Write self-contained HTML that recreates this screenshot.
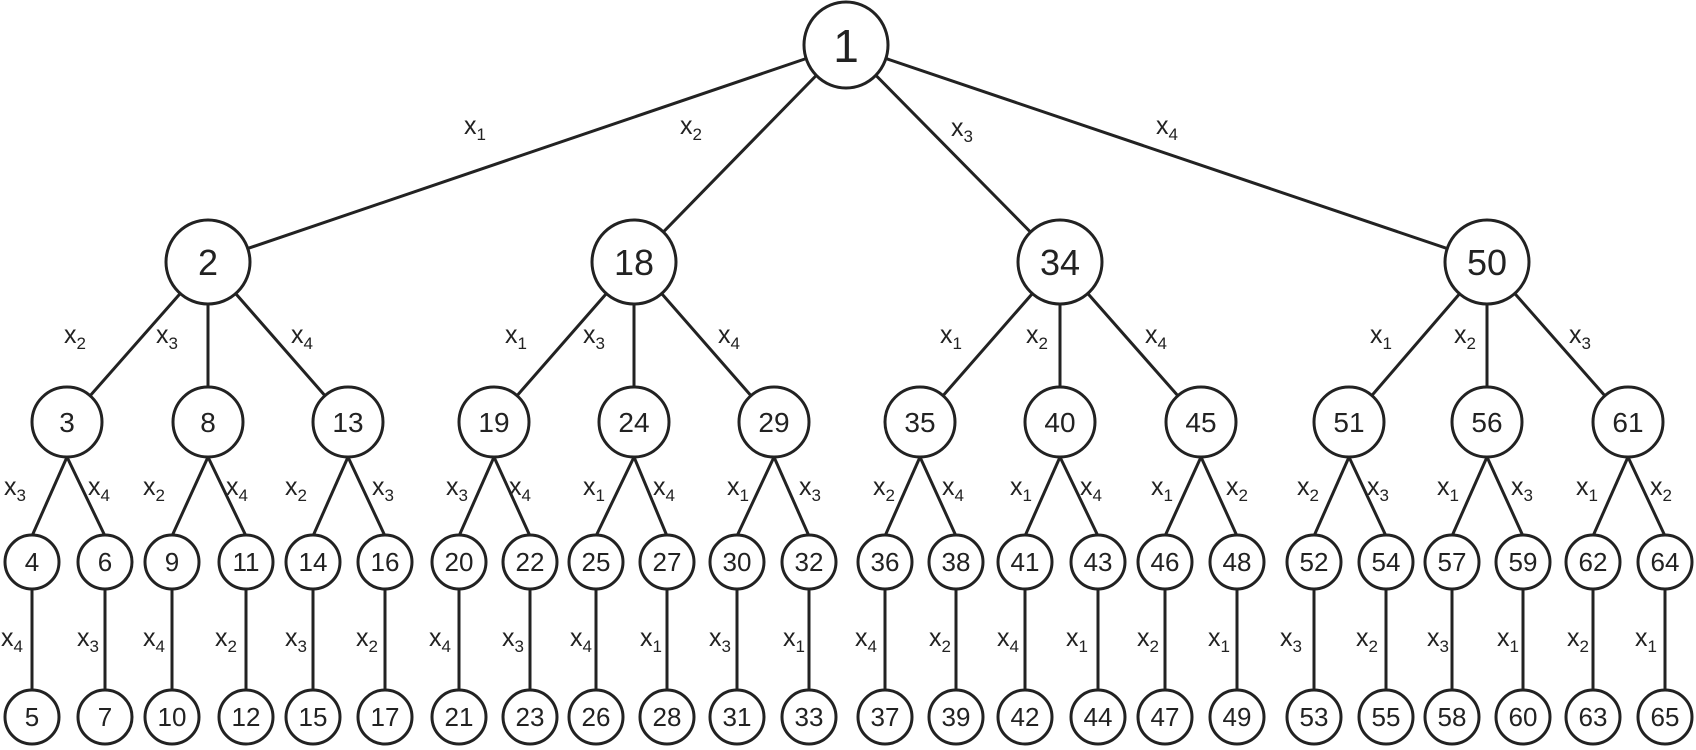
<!DOCTYPE html>
<html><head><meta charset="utf-8"><style>
html,body{margin:0;padding:0;background:#fff;}
svg{display:block;}
text{font-family:"Liberation Sans",Arial,sans-serif;fill:#222;}
.n{text-anchor:middle;}
.l{font-size:25px;}
.l tspan{font-size:17px;}
</style></head><body>
<svg width="1696" height="750" viewBox="0 0 1696 750" xmlns="http://www.w3.org/2000/svg">
<g stroke="#222" stroke-width="3" fill="none">
<!-- root edges -->
<line x1="846" y1="45" x2="208" y2="262"/>
<line x1="846" y1="45" x2="634" y2="262"/>
<line x1="846" y1="45" x2="1060" y2="262"/>
<line x1="846" y1="45" x2="1487" y2="262"/>
<!-- L2 to L3 -->
<line x1="208" y1="262" x2="67" y2="422"/><line x1="208" y1="262" x2="208" y2="422"/><line x1="208" y1="262" x2="348" y2="422"/>
<line x1="634" y1="262" x2="494" y2="422"/><line x1="634" y1="262" x2="634" y2="422"/><line x1="634" y1="262" x2="774" y2="422"/>
<line x1="1060" y1="262" x2="920" y2="422"/><line x1="1060" y1="262" x2="1060" y2="422"/><line x1="1060" y1="262" x2="1201" y2="422"/>
<line x1="1487" y1="262" x2="1349" y2="422"/><line x1="1487" y1="262" x2="1487" y2="422"/><line x1="1487" y1="262" x2="1628" y2="422"/>
<!-- L3 to L4 -->
<line x1="67" y1="457" x2="32" y2="536"/><line x1="67" y1="457" x2="105" y2="536"/>
<line x1="208" y1="457" x2="172" y2="536"/><line x1="208" y1="457" x2="246" y2="536"/>
<line x1="348" y1="457" x2="313" y2="536"/><line x1="348" y1="457" x2="385" y2="536"/>
<line x1="494" y1="457" x2="459" y2="536"/><line x1="494" y1="457" x2="530" y2="536"/>
<line x1="634" y1="457" x2="596" y2="536"/><line x1="634" y1="457" x2="667" y2="536"/>
<line x1="774" y1="457" x2="737" y2="536"/><line x1="774" y1="457" x2="809" y2="536"/>
<line x1="920" y1="457" x2="885" y2="536"/><line x1="920" y1="457" x2="956" y2="536"/>
<line x1="1060" y1="457" x2="1025" y2="536"/><line x1="1060" y1="457" x2="1098" y2="536"/>
<line x1="1201" y1="457" x2="1165" y2="536"/><line x1="1201" y1="457" x2="1237" y2="536"/>
<line x1="1349" y1="457" x2="1314" y2="536"/><line x1="1349" y1="457" x2="1386" y2="536"/>
<line x1="1487" y1="457" x2="1452" y2="536"/><line x1="1487" y1="457" x2="1523" y2="536"/>
<line x1="1628" y1="457" x2="1593" y2="536"/><line x1="1628" y1="457" x2="1665" y2="536"/>
<!-- L4 to L5 -->
<line x1="32" y1="562" x2="32" y2="717"/><line x1="105" y1="562" x2="105" y2="717"/>
<line x1="172" y1="562" x2="172" y2="717"/><line x1="246" y1="562" x2="246" y2="717"/>
<line x1="313" y1="562" x2="313" y2="717"/><line x1="385" y1="562" x2="385" y2="717"/>
<line x1="459" y1="562" x2="459" y2="717"/><line x1="530" y1="562" x2="530" y2="717"/>
<line x1="596" y1="562" x2="596" y2="717"/><line x1="667" y1="562" x2="667" y2="717"/>
<line x1="737" y1="562" x2="737" y2="717"/><line x1="809" y1="562" x2="809" y2="717"/>
<line x1="885" y1="562" x2="885" y2="717"/><line x1="956" y1="562" x2="956" y2="717"/>
<line x1="1025" y1="562" x2="1025" y2="717"/><line x1="1098" y1="562" x2="1098" y2="717"/>
<line x1="1165" y1="562" x2="1165" y2="717"/><line x1="1237" y1="562" x2="1237" y2="717"/>
<line x1="1314" y1="562" x2="1314" y2="717"/><line x1="1386" y1="562" x2="1386" y2="717"/>
<line x1="1452" y1="562" x2="1452" y2="717"/><line x1="1523" y1="562" x2="1523" y2="717"/>
<line x1="1593" y1="562" x2="1593" y2="717"/><line x1="1665" y1="562" x2="1665" y2="717"/>
</g>
<g stroke="#222" stroke-width="3" fill="#fff">
<ellipse cx="846" cy="45" rx="42" ry="43"/>
<circle cx="208" cy="262" r="42"/><circle cx="634" cy="262" r="42"/><circle cx="1060" cy="262" r="42"/><circle cx="1487" cy="262" r="42"/>
<circle cx="67" cy="422" r="35"/><circle cx="208" cy="422" r="35"/><circle cx="348" cy="422" r="35"/><circle cx="494" cy="422" r="35"/><circle cx="634" cy="422" r="35"/><circle cx="774" cy="422" r="35"/><circle cx="920" cy="422" r="35"/><circle cx="1060" cy="422" r="35"/><circle cx="1201" cy="422" r="35"/><circle cx="1349" cy="422" r="35"/><circle cx="1487" cy="422" r="35"/><circle cx="1628" cy="422" r="35"/>
<circle cx="32" cy="562" r="27"/><circle cx="105" cy="562" r="27"/><circle cx="172" cy="562" r="27"/><circle cx="246" cy="562" r="27"/><circle cx="313" cy="562" r="27"/><circle cx="385" cy="562" r="27"/><circle cx="459" cy="562" r="27"/><circle cx="530" cy="562" r="27"/><circle cx="596" cy="562" r="27"/><circle cx="667" cy="562" r="27"/><circle cx="737" cy="562" r="27"/><circle cx="809" cy="562" r="27"/><circle cx="885" cy="562" r="27"/><circle cx="956" cy="562" r="27"/><circle cx="1025" cy="562" r="27"/><circle cx="1098" cy="562" r="27"/><circle cx="1165" cy="562" r="27"/><circle cx="1237" cy="562" r="27"/><circle cx="1314" cy="562" r="27"/><circle cx="1386" cy="562" r="27"/><circle cx="1452" cy="562" r="27"/><circle cx="1523" cy="562" r="27"/><circle cx="1593" cy="562" r="27"/><circle cx="1665" cy="562" r="27"/>
<circle cx="32" cy="717" r="27"/><circle cx="105" cy="717" r="27"/><circle cx="172" cy="717" r="27"/><circle cx="246" cy="717" r="27"/><circle cx="313" cy="717" r="27"/><circle cx="385" cy="717" r="27"/><circle cx="459" cy="717" r="27"/><circle cx="530" cy="717" r="27"/><circle cx="596" cy="717" r="27"/><circle cx="667" cy="717" r="27"/><circle cx="737" cy="717" r="27"/><circle cx="809" cy="717" r="27"/><circle cx="885" cy="717" r="27"/><circle cx="956" cy="717" r="27"/><circle cx="1025" cy="717" r="27"/><circle cx="1098" cy="717" r="27"/><circle cx="1165" cy="717" r="27"/><circle cx="1237" cy="717" r="27"/><circle cx="1314" cy="717" r="27"/><circle cx="1386" cy="717" r="27"/><circle cx="1452" cy="717" r="27"/><circle cx="1523" cy="717" r="27"/><circle cx="1593" cy="717" r="27"/><circle cx="1665" cy="717" r="27"/>
</g>
<text class="n" x="846" y="62" font-size="46">1</text>
<g class="n" font-size="36">
<text x="208" y="275">2</text><text x="634" y="275">18</text><text x="1060" y="275">34</text><text x="1487" y="275">50</text>
</g>
<g class="n" font-size="28">
<text x="67" y="432">3</text><text x="208" y="432">8</text><text x="348" y="432">13</text><text x="494" y="432">19</text><text x="634" y="432">24</text><text x="774" y="432">29</text><text x="920" y="432">35</text><text x="1060" y="432">40</text><text x="1201" y="432">45</text><text x="1349" y="432">51</text><text x="1487" y="432">56</text><text x="1628" y="432">61</text>
</g>
<g class="n" font-size="26">
<text x="32" y="571">4</text><text x="105" y="571">6</text><text x="172" y="571">9</text><text x="246" y="571">11</text><text x="313" y="571">14</text><text x="385" y="571">16</text><text x="459" y="571">20</text><text x="530" y="571">22</text><text x="596" y="571">25</text><text x="667" y="571">27</text><text x="737" y="571">30</text><text x="809" y="571">32</text><text x="885" y="571">36</text><text x="956" y="571">38</text><text x="1025" y="571">41</text><text x="1098" y="571">43</text><text x="1165" y="571">46</text><text x="1237" y="571">48</text><text x="1314" y="571">52</text><text x="1386" y="571">54</text><text x="1452" y="571">57</text><text x="1523" y="571">59</text><text x="1593" y="571">62</text><text x="1665" y="571">64</text>
<text x="32" y="726">5</text><text x="105" y="726">7</text><text x="172" y="726">10</text><text x="246" y="726">12</text><text x="313" y="726">15</text><text x="385" y="726">17</text><text x="459" y="726">21</text><text x="530" y="726">23</text><text x="596" y="726">26</text><text x="667" y="726">28</text><text x="737" y="726">31</text><text x="809" y="726">33</text><text x="885" y="726">37</text><text x="956" y="726">39</text><text x="1025" y="726">42</text><text x="1098" y="726">44</text><text x="1165" y="726">47</text><text x="1237" y="726">49</text><text x="1314" y="726">53</text><text x="1386" y="726">55</text><text x="1452" y="726">58</text><text x="1523" y="726">60</text><text x="1593" y="726">63</text><text x="1665" y="726">65</text>
</g>
<g class="l">
<text x="464" y="134">x<tspan dy="6">1</tspan></text>
<text x="680" y="134">x<tspan dy="6">2</tspan></text>
<text x="951" y="136">x<tspan dy="6">3</tspan></text>
<text x="1156" y="134">x<tspan dy="6">4</tspan></text>

<text x="64" y="343">x<tspan dy="6">2</tspan></text>
<text x="156" y="343">x<tspan dy="6">3</tspan></text>
<text x="291" y="343">x<tspan dy="6">4</tspan></text>
<text x="505" y="343">x<tspan dy="6">1</tspan></text>
<text x="583" y="343">x<tspan dy="6">3</tspan></text>
<text x="718" y="343">x<tspan dy="6">4</tspan></text>
<text x="940" y="343">x<tspan dy="6">1</tspan></text>
<text x="1026" y="343">x<tspan dy="6">2</tspan></text>
<text x="1145" y="343">x<tspan dy="6">4</tspan></text>
<text x="1370" y="343">x<tspan dy="6">1</tspan></text>
<text x="1454" y="343">x<tspan dy="6">2</tspan></text>
<text x="1569" y="343">x<tspan dy="6">3</tspan></text>

<text x="4" y="495">x<tspan dy="6">3</tspan></text>
<text x="88" y="495">x<tspan dy="6">4</tspan></text>
<text x="143" y="495">x<tspan dy="6">2</tspan></text>
<text x="226" y="495">x<tspan dy="6">4</tspan></text>
<text x="285" y="495">x<tspan dy="6">2</tspan></text>
<text x="372" y="495">x<tspan dy="6">3</tspan></text>
<text x="446" y="495">x<tspan dy="6">3</tspan></text>
<text x="509" y="495">x<tspan dy="6">4</tspan></text>
<text x="583" y="495">x<tspan dy="6">1</tspan></text>
<text x="653" y="495">x<tspan dy="6">4</tspan></text>
<text x="727" y="495">x<tspan dy="6">1</tspan></text>
<text x="799" y="495">x<tspan dy="6">3</tspan></text>
<text x="873" y="495">x<tspan dy="6">2</tspan></text>
<text x="942" y="495">x<tspan dy="6">4</tspan></text>
<text x="1010" y="495">x<tspan dy="6">1</tspan></text>
<text x="1080" y="495">x<tspan dy="6">4</tspan></text>
<text x="1151" y="495">x<tspan dy="6">1</tspan></text>
<text x="1226" y="495">x<tspan dy="6">2</tspan></text>
<text x="1297" y="495">x<tspan dy="6">2</tspan></text>
<text x="1367" y="495">x<tspan dy="6">3</tspan></text>
<text x="1437" y="495">x<tspan dy="6">1</tspan></text>
<text x="1511" y="495">x<tspan dy="6">3</tspan></text>
<text x="1576" y="495">x<tspan dy="6">1</tspan></text>
<text x="1650" y="495">x<tspan dy="6">2</tspan></text>

<text x="1" y="646">x<tspan dy="6">4</tspan></text>
<text x="77" y="646">x<tspan dy="6">3</tspan></text>
<text x="143" y="646">x<tspan dy="6">4</tspan></text>
<text x="215" y="646">x<tspan dy="6">2</tspan></text>
<text x="285" y="646">x<tspan dy="6">3</tspan></text>
<text x="356" y="646">x<tspan dy="6">2</tspan></text>
<text x="429" y="646">x<tspan dy="6">4</tspan></text>
<text x="502" y="646">x<tspan dy="6">3</tspan></text>
<text x="570" y="646">x<tspan dy="6">4</tspan></text>
<text x="640" y="646">x<tspan dy="6">1</tspan></text>
<text x="709" y="646">x<tspan dy="6">3</tspan></text>
<text x="783" y="646">x<tspan dy="6">1</tspan></text>
<text x="855" y="646">x<tspan dy="6">4</tspan></text>
<text x="929" y="646">x<tspan dy="6">2</tspan></text>
<text x="997" y="646">x<tspan dy="6">4</tspan></text>
<text x="1066" y="646">x<tspan dy="6">1</tspan></text>
<text x="1137" y="646">x<tspan dy="6">2</tspan></text>
<text x="1208" y="646">x<tspan dy="6">1</tspan></text>
<text x="1280" y="646">x<tspan dy="6">3</tspan></text>
<text x="1356" y="646">x<tspan dy="6">2</tspan></text>
<text x="1427" y="646">x<tspan dy="6">3</tspan></text>
<text x="1497" y="646">x<tspan dy="6">1</tspan></text>
<text x="1567" y="646">x<tspan dy="6">2</tspan></text>
<text x="1635" y="646">x<tspan dy="6">1</tspan></text>
</g>
</svg>
</body></html>
